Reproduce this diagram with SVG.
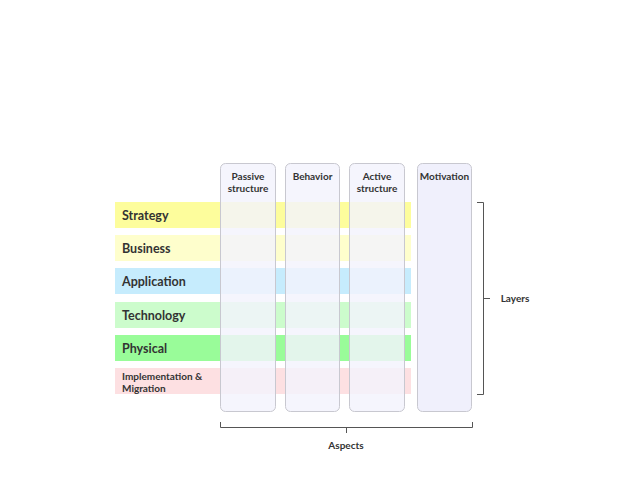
<svg xmlns="http://www.w3.org/2000/svg" width="638" height="478" viewBox="0 0 638 478">
<style>
.lbl{font-family:"Lato","Open Sans","DejaVu Sans",sans-serif;font-weight:bold;fill:#333;font-size:12.5px}
.sm{font-size:10px}
.hd{font-family:"Lato","Open Sans","DejaVu Sans",sans-serif;font-weight:bold;fill:#333;font-size:10px;text-anchor:middle}
.col{fill:#f3f3fc;fill-opacity:0.82;stroke:#c8c8d0;stroke-width:1}
.br{fill:none;stroke:#555;stroke-width:1}
</style>
<rect width="638" height="478" fill="#fff"/>
<g id="layers">
<g id="strategy"><rect x="115" y="202" width="296" height="26" fill="#fdfd9c"/><text class="lbl" x="122" y="220">Strategy</text></g>
<g id="business"><rect x="115" y="235" width="296" height="26" fill="#fefecc"/><text class="lbl" x="122" y="253">Business</text></g>
<g id="application"><rect x="115" y="268" width="296" height="26" fill="#c6ecfd"/><text class="lbl" x="122" y="286">Application</text></g>
<g id="technology"><rect x="115" y="302" width="296" height="26" fill="#ccfccc"/><text class="lbl" x="122" y="320">Technology</text></g>
<g id="physical"><rect x="115" y="335" width="296" height="26" fill="#99fc99"/><text class="lbl" x="122" y="353">Physical</text></g>
<g id="implementation"><rect x="115" y="368" width="296" height="26" fill="#fde0e2"/><text class="lbl sm" x="122" y="380">Implementation &amp;</text><text class="lbl sm" x="122" y="392">Migration</text></g>
</g>
<g id="aspects">
<g id="passive"><rect class="col" x="220.5" y="163.5" width="55" height="248" rx="5"/><text class="hd" x="248" y="180">Passive</text><text class="hd" x="248" y="192">structure</text></g>
<g id="behavior"><rect class="col" x="285.5" y="163.5" width="54" height="248" rx="5"/><text class="hd" x="312.5" y="180">Behavior</text></g>
<g id="active"><rect class="col" x="349.5" y="163.5" width="55" height="248" rx="5"/><text class="hd" x="377" y="180">Active</text><text class="hd" x="377" y="192">structure</text></g>
<g id="motivation"><rect class="col" x="417.5" y="163.5" width="54" height="248" rx="5" style="fill-opacity:1;fill:#f0f0fc"/><text class="hd" x="444.5" y="180">Motivation</text></g>
</g>
<g id="connectors">
<path class="br" d="M477 202.5H483.5V394.5H477M483.5 298.5H490"/>
<path class="br" d="M220.5 422V427.5H472.5V422M346.5 427.5V433"/>
</g>
<text class="hd" x="515" y="302">Layers</text>
<text class="hd" x="346" y="449">Aspects</text>
</svg>
